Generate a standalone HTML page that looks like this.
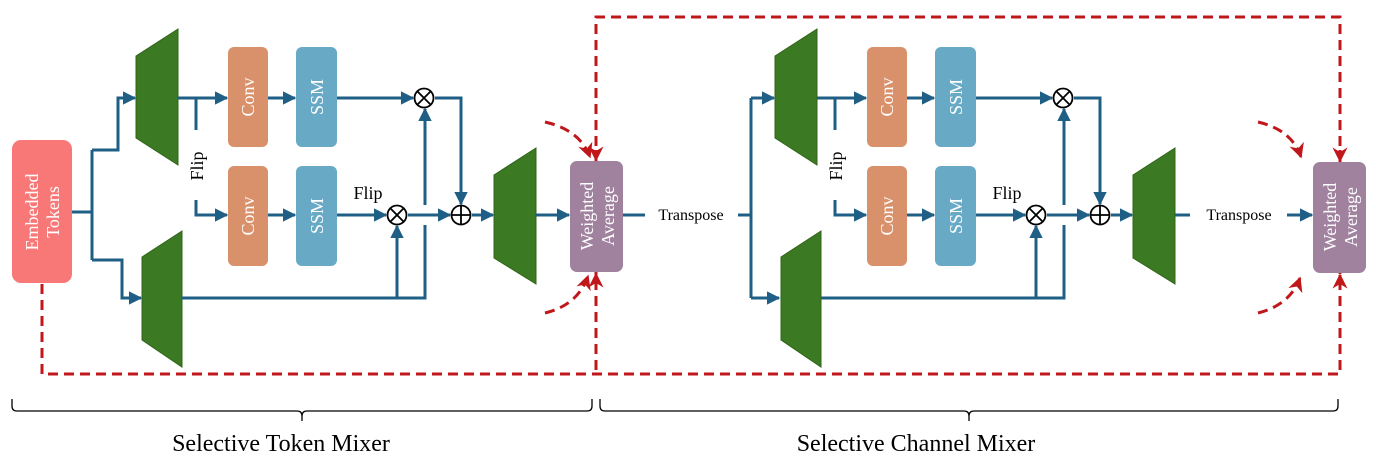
<!DOCTYPE html>
<html><head><meta charset="utf-8"><style>
html,body{margin:0;padding:0;background:#fff}
svg{display:block}
text{font-family:"Liberation Serif",serif}
</style></head><body>
<svg width="1376" height="474" viewBox="0 0 1376 474" xmlns="http://www.w3.org/2000/svg">
<defs>
<marker id="a" viewBox="0 0 10 10" refX="9" refY="5" markerWidth="4.5" markerHeight="4.5" orient="auto"><path d="M0,0 L10,5 L0,10 z" fill="#1f5f86"/></marker>
<marker id="r" viewBox="0 0 10 10" refX="9" refY="5" markerWidth="5" markerHeight="5" orient="auto"><path d="M0,0 L10,5 L0,10 L3,5 z" fill="#c0171b"/></marker>
<g id="mix">
  <g fill="#3b7a22" stroke="#2f6418" stroke-width="1">
    <polygon points="136,56 178,29 178,165 136,138"/>
    <polygon points="142,257 182,231 182,367 142,340"/>
    <polygon points="494,175 536,148 536,284 494,258"/>
  </g>
  <g fill="none" stroke="#1f5f86" stroke-width="3">
    <path d="M178,98 H227" marker-end="url(#a)"/>
    <path d="M196,98 V130"/>
    <path d="M196,200 V215 H227" marker-end="url(#a)"/>
    <path d="M268,98 H295" marker-end="url(#a)"/>
    <path d="M268,215 H295" marker-end="url(#a)"/>
    <path d="M337,98 H413" marker-end="url(#a)"/>
    <path d="M435,98 H461 V204" marker-end="url(#a)"/>
    <path d="M337,215 H386" marker-end="url(#a)"/>
    <path d="M408,215 H450" marker-end="url(#a)"/>
    <path d="M425,205 V109" marker-end="url(#a)"/>
    <path d="M182,298 H425 V225"/>
    <path d="M397,298 V226" marker-end="url(#a)"/>
    <path d="M472,215 H493" marker-end="url(#a)"/>
  </g>
  <g fill="#d9916b"><rect x="228" y="47" width="40" height="100" rx="6"/><rect x="228" y="166" width="40" height="100" rx="6"/></g>
  <g fill="#68a9c5"><rect x="296" y="47" width="41" height="100" rx="6"/><rect x="296" y="166" width="41" height="100" rx="6"/></g>
  <g fill="#fff" font-size="18" text-anchor="middle">
    <text transform="translate(254,97) rotate(-90)">Conv</text>
    <text transform="translate(254,216) rotate(-90)">Conv</text>
    <text transform="translate(323,97) rotate(-90)">SSM</text>
    <text transform="translate(323,216) rotate(-90)">SSM</text>
  </g>
  <text transform="translate(203,166) rotate(-90)" font-size="18" text-anchor="middle" fill="#000">Flip</text>
  <text x="368" y="199" font-size="18" text-anchor="middle" fill="#000">Flip</text>
  <g fill="#fff" stroke="#000" stroke-width="1.8">
    <circle cx="424" cy="98" r="9.5"/><circle cx="397" cy="215" r="9.5"/><circle cx="461" cy="215" r="9.5"/>
  </g>
  <g stroke="#000" stroke-width="1.8">
    <path d="M417.3,91.3 L430.7,104.7 M430.7,91.3 L417.3,104.7"/>
    <path d="M390.3,208.3 L403.7,221.7 M403.7,208.3 L390.3,221.7"/>
    <path d="M451.5,215 H470.5 M461,205.5 V224.5"/>
  </g>
</g>
</defs>

<g fill="none" stroke="#c0171b" stroke-width="3" stroke-dasharray="10 6">
  <path d="M42,284 V374 H1340 V17 H596 V374"/>
</g>
<g fill="none" stroke="#c0171b" stroke-width="3" stroke-dasharray="10 6">
  <path d="M545,122 Q580,130 590,157" marker-end="url(#r)"/>
  <path d="M545,313 Q578,305 588,276" marker-end="url(#r)"/>
  <path d="M1258,122 Q1292,130 1301,157" marker-end="url(#r)"/>
  <path d="M1258,313 Q1290,305 1300,278" marker-end="url(#r)"/>
</g>
<g fill="none" stroke="#c0171b" stroke-width="3">
  <path d="M596,150 V160" marker-end="url(#r)"/>
  <path d="M596,284 V274" marker-end="url(#r)"/>
  <path d="M1340,150 V161" marker-end="url(#r)"/>
  <path d="M1340,285 V275" marker-end="url(#r)"/>
</g>

<use href="#mix"/>
<use href="#mix" transform="translate(639,0)"/>

<g fill="none" stroke="#1f5f86" stroke-width="3">
  <path d="M72,212 H92"/>
  <path d="M92,150 V260"/>
  <path d="M92,150 H118 V98 H135" marker-end="url(#a)"/>
  <path d="M92,260 H122 V298 H141" marker-end="url(#a)"/>
  <path d="M536,215 H569" marker-end="url(#a)"/>
  <path d="M623,215 H645"/>
  <path d="M738,215 H751"/>
  <path d="M751,98 V298"/>
  <path d="M751,98 H774" marker-end="url(#a)"/>
  <path d="M751,298 H779" marker-end="url(#a)"/>
  <path d="M1175,215 H1190"/>
  <path d="M1287,215 H1312" marker-end="url(#a)"/>
</g>
<rect x="12" y="140" width="60" height="143" rx="9" fill="#f87878"/>
<text transform="translate(38,212) rotate(-90)" font-size="18" fill="#fff" text-anchor="middle">Embedded</text>
<text transform="translate(59,212) rotate(-90)" font-size="18" fill="#fff" text-anchor="middle">Tokens</text>

<rect x="570" y="161" width="53" height="111" rx="7" fill="#a0829f"/>
<text transform="translate(593,216) rotate(-90)" font-size="18" fill="#fff" text-anchor="middle">Weighted</text>
<text transform="translate(614,216) rotate(-90)" font-size="18" fill="#fff" text-anchor="middle">Average</text>
<rect x="1313" y="162" width="53" height="111" rx="7" fill="#a0829f"/>
<text transform="translate(1336,217) rotate(-90)" font-size="18" fill="#fff" text-anchor="middle">Weighted</text>
<text transform="translate(1357,217) rotate(-90)" font-size="18" fill="#fff" text-anchor="middle">Average</text>

<text x="691" y="220" font-size="16" text-anchor="middle" fill="#000">Transpose</text>
<text x="1239" y="220" font-size="16" text-anchor="middle" fill="#000">Transpose</text>

<g fill="none" stroke="#000" stroke-width="1.3">
  <path d="M12,399 V406 Q12,411 17,411 H297 Q302,411 302,416 V421 M302,416 Q302,411 307,411 H587 Q592,411 592,406 V399"/>
  <path d="M600,399 V406 Q600,411 605,411 H964 Q969,411 969,416 V421 M969,416 Q969,411 974,411 H1333 Q1338,411 1338,406 V399"/>
</g>
<text x="281" y="451" font-size="24" text-anchor="middle" fill="#000">Selective Token Mixer</text>
<text x="916" y="451" font-size="24" text-anchor="middle" fill="#000">Selective Channel Mixer</text>
</svg>
</body></html>
